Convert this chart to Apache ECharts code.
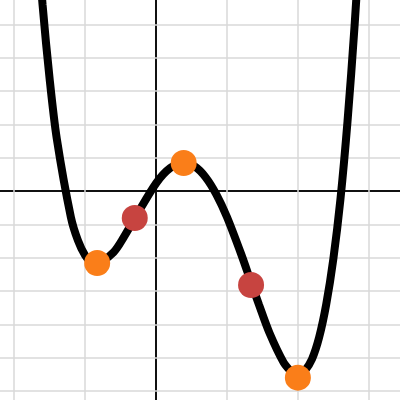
<!DOCTYPE html><html><head><meta charset="utf-8"><script src="https://cdn.jsdelivr.net/npm/echarts@6/dist/echarts.min.js"></script>
<style>html,body{margin:0;padding:0;background:#fff}#c{width:400px;height:400px}</style></head><body><div id="c"></div><script>
const curveX=[-1.7,-1.6,-1.5,-1.4,-1.2,-1.1,-1.0,-0.9,-0.83,-0.6,-0.45,-0.3,0,0.2,0.39,0.55,0.7,0.85,1.0,1.2,1.34,1.45,1.6,1.8,1.9,2.0,2.1,2.2,2.3,2.4,2.5,2.6,2.7,2.8,2.9];
const curveY=[8.34,5.59,3.36,1.58,-0.79,-1.49,-1.93,-2.15,-2.16,-1.84,-1.37,-0.82,0.23,0.69,0.84,0.73,0.41,-0.10,-0.78,-1.89,-2.74,-3.4,-4.26,-5.15,-5.41,-5.6,-5.39,-5.04,-4.39,-3.4,-2.04,-0.25,2.09,4.97,8.39];
const extrema=[[-0.83,-2.16],[0.39,0.84],[2.0,-5.6]];
const inflections=[[-0.3,-0.81],[1.34,-2.82]];
const gridXs=[-2,-1,1,2,3];
const gridYs=[-6,-5,-4,-3,-2,-1,1,2,3,4,5];
const ax={type:'value',axisLabel:{show:false},axisTick:{show:false},axisLine:{show:true,onZero:true,lineStyle:{color:'#111',width:2}},splitLine:{show:false}};
echarts.init(document.getElementById('c')).setOption({animation:false,
grid:{left:0,top:0,right:0,bottom:0},
xAxis:Object.assign({},ax,{min:-2.2,max:3.44}),
yAxis:Object.assign({},ax,{min:-6.27,max:5.73}),
series:[
{type:'line',z:-1,data:[],markLine:{silent:true,symbol:'none',label:{show:false},lineStyle:{color:'#d8d8d8',width:1.5,type:'solid'},
 data:gridXs.map(v=>({xAxis:v})).concat(gridYs.map(v=>({yAxis:v})))}},
{type:'line',z:10,smooth:0.3,symbol:'none',data:curveX.map((x,i)=>[x,curveY[i]]),lineStyle:{color:'#000',width:8}},
{type:'scatter',z:11,symbolSize:26,data:extrema,itemStyle:{color:'#fa7e19',opacity:1}},
{type:'scatter',z:11,symbolSize:26,data:inflections,itemStyle:{color:'#c74440',opacity:1}}]});
</script></body></html>
